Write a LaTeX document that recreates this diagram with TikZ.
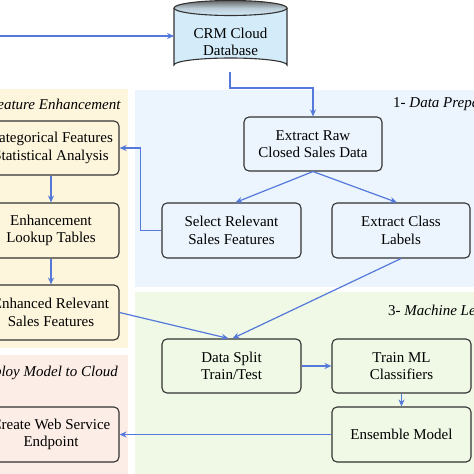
\documentclass[tikz,border=0pt]{standalone}
\usepackage{fontspec}
\setmainfont{Liberation Serif}
\usetikzlibrary{arrows.meta,calc}
\definecolor{yelbg}{RGB}{253,245,220}
\definecolor{blubg}{RGB}{236,245,253}
\definecolor{grnbg}{RGB}{239,249,230}
\definecolor{pnkbg}{RGB}{252,237,231}
\definecolor{dbfill}{RGB}{212,236,250}
\definecolor{arrblue}{RGB}{84,121,218}
\definecolor{boxline}{RGB}{50,50,50}
\tikzset{
  stepbox/.style={draw=boxline, line width=1.1pt, rounded corners=5pt, align=center,
    minimum height=54pt, inner sep=0pt, font=\fontsize{15}{17.5}\selectfont},
  arr/.style={draw=arrblue, line width=1.2pt, -{Stealth[length=7pt,width=6pt]}},
  lbl/.style={font=\fontsize{15}{17.5}\selectfont, inner sep=0pt},
}
\begin{document}
\begin{tikzpicture}[x=1pt,y=-1pt]
\useasboundingbox (0,0) rectangle (474,474);
\clip (0,0) rectangle (474,474);
\fill[white] (0,0) rectangle (474,474);
% regions
\fill[yelbg] (-10,89) rectangle (128,348);
\fill[blubg] (135,90) rectangle (480,287);
\fill[grnbg] (135,292) rectangle (480,480);
\fill[pnkbg] (-10,355) rectangle (128,480);
% region labels
\node[lbl, anchor=east] (lblfe) at (121,104) {2- \textit{Feature Enhancement}};
\node[lbl, anchor=west] (lbldp) at (393,104) {1- \textit{Data Preparation}};
\node[lbl, anchor=west] (lblml) at (388,312) {3- \textit{Machine Learning}};
\node[lbl, anchor=east] (lbldm) at (118,373) {4- \textit{Deploy Model to Cloud}};
% database cylinder
\fill[dbfill] (174,8) -- (174,65) arc[start angle=180, end angle=360, x radius=56.5, y radius=7] -- (287,8) -- cycle;
\draw[boxline, line width=1.1pt] (174,8) -- (174,65) arc[start angle=180, end angle=360, x radius=56.5, y radius=7] -- (287,8);
\shade[top color=gray!80!black, bottom color=dbfill, middle color=dbfill!70!gray] (230.5,8) ellipse[x radius=56.5, y radius=7.5];
\draw[boxline, line width=1.1pt] (230.5,8) ellipse[x radius=56.5, y radius=7.5];
\node[lbl, align=center] (db) at (230.5,42) {CRM Cloud\\Database};
\coordinate (dbW) at (174,36);
\coordinate (dbS) at (230,72);
\coordinate (inL) at (-2,36);
% boxes
\node[stepbox, fill=blubg, minimum width=138pt] (raw) at (313,144) {Extract Raw\\Closed Sales Data};
\node[stepbox, fill=blubg, minimum width=139pt, minimum height=55pt] (sel) at (231.5,230.5) {Select Relevant\\Sales Features};
\node[stepbox, fill=blubg, minimum width=138pt, minimum height=55pt] (cls) at (401,230.5) {Extract Class\\Labels};
\node[stepbox, fill=yelbg, minimum width=136pt] (cat) at (51,148) {Categorical Features\\Statistical Analysis};
\node[stepbox, fill=yelbg, minimum width=136pt, minimum height=55pt] (enh) at (51,230.5) {Enhancement\\Lookup Tables};
\node[stepbox, fill=yelbg, minimum width=136pt, minimum height=55pt] (enr) at (51,312.5) {Enhanced Relevant\\Sales Features};
\node[stepbox, fill=grnbg, minimum width=139pt] (split) at (231.5,366) {Data Split\\Train/Test};
\node[stepbox, fill=grnbg, minimum width=139pt] (train) at (401.5,366) {Train ML\\Classifiers};
\node[stepbox, fill=grnbg, minimum width=139pt, minimum height=55pt] (ens) at (401.5,434.5) {Ensemble Model};
\node[stepbox, fill=pnkbg, minimum width=136pt, minimum height=55pt] (web) at (51,434.5) {Create Web Service\\Endpoint};
% connectors
\draw[arr] (inL) -- (dbW);
\draw[arr] (dbS) -- ++(0,16) -| (raw.north);
\draw[arr] (raw.south) -- ($(sel.north)+(4,0)$);
\draw[arr] (raw.south) -- ($(cls.north)+(-4,0)$);
\draw[arr] (sel.west) -- ++(-21,0) |- (cat.east);
\draw[arr] (cat.south) -- (enh.north);
\draw[arr] (enh.south) -- (enr.north);
\draw[arr] (enr.east) -- ($(split.north)+(-3,0)$);
\draw[arr] (cls.south) -- ($(split.north)+(1,0)$);
\draw[arr] (split.east) -- (train.west);
\draw[arr] (train.south) -- (ens.north);
\draw[arr] (ens.west) -- (web.east);
\end{tikzpicture}
\end{document}
